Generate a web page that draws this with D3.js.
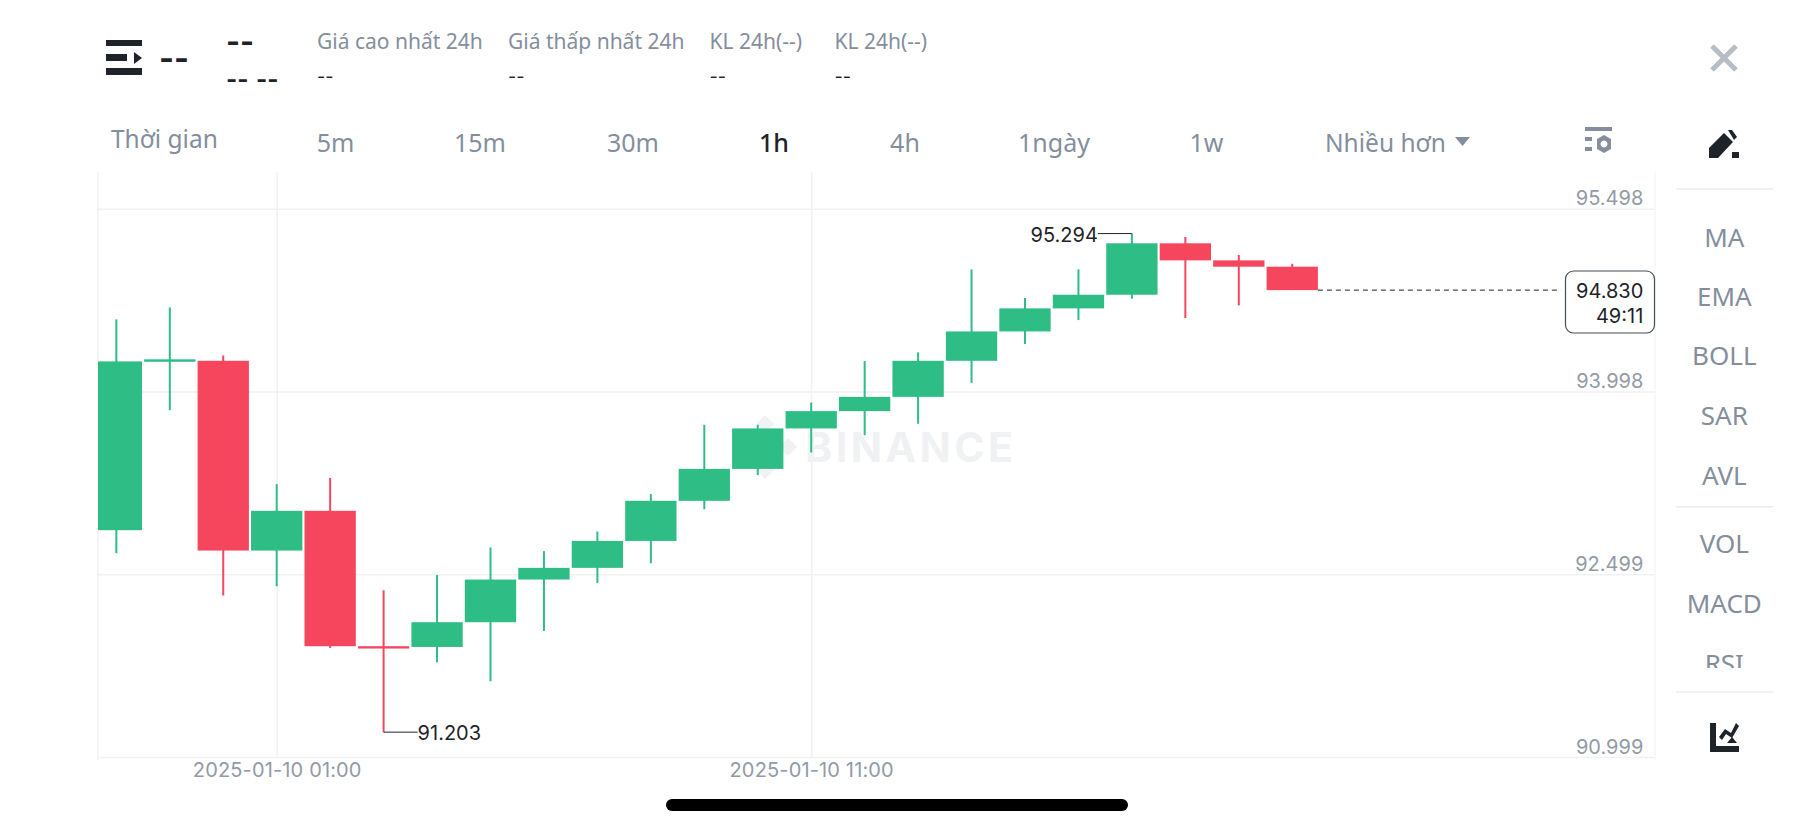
<!DOCTYPE html>
<html>
<head>
<meta charset="utf-8">
<script src="https://cdn.jsdelivr.net/npm/d3@7"></script>
<style>
	html, body { margin: 0; padding: 0; background: #fff; overflow: hidden; }
	svg { display: block; }
	text { font-family: 'Noto Sans', sans-serif; }
	.num text, text.num { font-family: 'Inter', sans-serif; }
</style>
</head>
<body>
<div id="chart"></div>
<script>
// Values
const times = ['2025-01-09 22:00', '2025-01-09 23:00', '2025-01-10 00:00', '2025-01-10 01:00', '2025-01-10 02:00', '2025-01-10 03:00', '2025-01-10 04:00', '2025-01-10 05:00', '2025-01-10 06:00', '2025-01-10 07:00', '2025-01-10 08:00', '2025-01-10 09:00', '2025-01-10 10:00', '2025-01-10 11:00', '2025-01-10 12:00', '2025-01-10 13:00', '2025-01-10 14:00', '2025-01-10 15:00', '2025-01-10 16:00', '2025-01-10 17:00', '2025-01-10 18:00', '2025-01-10 19:00', '2025-01-10 20:00'];
const opens = [92.860, 94.242, 94.250, 92.693, 93.019, 91.908, 91.902, 92.105, 92.455, 92.551, 92.772, 93.101, 93.363, 93.695, 93.837, 93.954, 94.250, 94.491, 94.680, 94.792, 95.214, 95.074, 95.022];
const highs = [94.590, 94.688, 94.294, 93.238, 93.289, 92.367, 92.493, 92.718, 92.688, 92.849, 93.156, 93.725, 93.725, 93.908, 94.248, 94.319, 95.000, 94.765, 95.000, 95.294, 95.266, 95.118, 95.046];
const lows = [92.671, 93.845, 92.324, 92.400, 91.894, 91.203, 91.776, 91.620, 92.033, 92.427, 92.589, 93.032, 93.312, 93.498, 93.640, 93.733, 94.069, 94.387, 94.584, 94.759, 94.601, 94.705, 94.830];
const closes = [94.245, 94.262, 92.693, 93.019, 91.908, 91.889, 92.105, 92.455, 92.551, 92.772, 93.101, 93.363, 93.695, 93.837, 93.954, 94.250, 94.491, 94.680, 94.792, 95.214, 95.074, 95.022, 94.830];

const priceTicks = [95.498, 93.998, 92.499, 90.999];
const timeTicks = ['2025-01-10 01:00', '2025-01-10 11:00'];
const lastPrice = 94.830;
const countdown = '49:11';
const maxPoint = { index: 19, price: 95.294 };
const minPoint = { index: 5, price: 91.203 };

const statLabels = ['Giá cao nhất 24h', 'Giá thấp nhất 24h', 'KL 24h(--)', 'KL 24h(--)'];
const periods = ['5m', '15m', '30m', '1h', '4h', '1ngày', '1w'];
const activePeriod = '1h';
const mainIndicators = ['MA', 'EMA', 'BOLL', 'SAR', 'AVL'];
const subIndicators = ['VOL', 'MACD', 'RSI'];

// Declare the chart dimensions
const width = 1793;
const height = 828;
const plotLeft = 98;
const plotRight = 1655;
const plotTop = 172;
const plotBottom = 757;

const upColor = '#2ebd85';
const downColor = '#f6465d';
const gridColor = '#f0f1f3';
const mutedColor = '#848e9c';
const axisText = '#929aa5';
const darkColor = '#1e2329';

const parseTime = d3.utcParse('%Y-%m-%d %H:%M');
const formatTime = d3.utcFormat('%Y-%m-%d %H:%M');

const candles = times.map((t, i) => ({
	time: parseTime(t),
	open: opens[i],
	high: highs[i],
	low: lows[i],
	close: closes[i]
}));

const x = d3.scaleUtc()
	.domain([parseTime(timeTicks[0]), parseTime(timeTicks[1])])
	.range([276.7, 811.2]);
const y = d3.scaleLinear()
	.domain([priceTicks[3], priceTicks[0]])
	.range([plotBottom, 208.7]);

const step = x(candles[1].time) - x(candles[0].time);
const bodyWidth = step * 0.96;

const svg = d3.select('#chart')
	.append('svg')
	.attr('width', width)
	.attr('height', height)
	.attr('viewBox', [0, 0, width, height]);

svg.append('clipPath')
	.attr('id', 'plot_clip')
	.append('rect')
	.attr('x', plotLeft)
	.attr('y', plotTop)
	.attr('width', plotRight - plotLeft)
	.attr('height', plotBottom - plotTop);

// Frame
svg.append('line')
	.attr('x1', plotLeft).attr('x2', plotLeft)
	.attr('y1', plotTop).attr('y2', 760)
	.attr('stroke', gridColor).attr('stroke-width', 1.5);
svg.append('line')
	.attr('x1', plotRight).attr('x2', plotRight)
	.attr('y1', plotTop).attr('y2', 760)
	.attr('stroke', gridColor).attr('stroke-width', 1);

// Price axis with grid lines
const yAxis = svg.append('g')
	.attr('class', 'num')
	.attr('transform', 'translate(' + plotRight + ',0)')
	.call(d3.axisLeft(y).tickValues(priceTicks).tickFormat(d3.format('.3f')).tickSize(plotRight - plotLeft));
yAxis.select('.domain').remove();
yAxis.selectAll('line').attr('stroke', gridColor).attr('stroke-width', 1.5);
yAxis.selectAll('text')
	.attr('x', -11.7)
	.attr('dy', -4)
	.style('dominant-baseline', 'auto')
	.style('font-size', '20px')
	.attr('fill', axisText);

// Time axis with grid lines
const xAxis = svg.append('g')
	.attr('class', 'num')
	.attr('transform', 'translate(0,' + plotBottom + ')')
	.call(d3.axisBottom(x).tickValues(timeTicks.map(parseTime)).tickFormat(formatTime).tickSize(plotTop - plotBottom));
xAxis.select('.domain').remove();
xAxis.selectAll('line').attr('stroke', gridColor).attr('stroke-width', 1.5);
xAxis.selectAll('text')
	.attr('y', 20)
	.attr('dy', 0)
	.style('font-size', '20px')
	.style('letter-spacing', '0.15px')
	.attr('fill', axisText);

// Watermark
const mark = svg.append('g').attr('fill', '#eff1f3');
[[765, 424, 9], [765, 470, 9], [742, 447, 9], [788, 447, 9], [765, 447, 13]].forEach((d) => {
	mark.append('path').attr('d', d3.line()([[d[0], d[1] - d[2]], [d[0] + d[2], d[1]], [d[0], d[1] + d[2]], [d[0] - d[2], d[1]]]) + 'Z');
});
mark.append('text')
	.attr('x', 805)
	.attr('y', 461.5)
	.style('font-family', 'Inter')
	.style('font-weight', 700)
	.style('font-size', '41px')
	.style('letter-spacing', '3.5px')
	.text('BINANCE');

// Candles
const candle = svg.append('g')
	.attr('clip-path', 'url(#plot_clip)')
	.selectAll('g')
	.data(candles)
	.join('g')
	.attr('fill', (d) => (d.close >= d.open ? upColor : downColor))
	.attr('stroke', (d) => (d.close >= d.open ? upColor : downColor));

candle.append('line')
	.attr('x1', (d) => x(d.time))
	.attr('x2', (d) => x(d.time))
	.attr('y1', (d) => y(d.high))
	.attr('y2', (d) => y(d.low))
	.attr('stroke-width', 2);

candle.append('rect')
	.attr('x', (d) => x(d.time) - bodyWidth / 2)
	.attr('width', bodyWidth)
	.attr('y', (d) => y(Math.max(d.open, d.close)))
	.attr('height', (d) => Math.max(2, Math.abs(y(d.open) - y(d.close))))
	.attr('stroke', 'none');

// High and low callouts
const callouts = svg.append('g').attr('class', 'num');
callouts.append('path')
	.attr('d', d3.line()([[x(candles[maxPoint.index].time), y(maxPoint.price)], [x(candles[maxPoint.index].time) - 34, y(maxPoint.price)]]))
	.attr('stroke', darkColor).attr('stroke-width', 1);
callouts.append('text')
	.attr('class', 'num')
	.attr('x', x(candles[maxPoint.index].time) - 34)
	.attr('y', y(maxPoint.price) + 8)
	.attr('text-anchor', 'end')
	.attr('fill', darkColor)
	.style('font-size', '20px')
	.text(d3.format('.3f')(maxPoint.price));
callouts.append('path')
	.attr('d', d3.line()([[x(candles[minPoint.index].time), y(minPoint.price)], [x(candles[minPoint.index].time) + 34, y(minPoint.price)]]))
	.attr('stroke', darkColor).attr('stroke-width', 1);
callouts.append('text')
	.attr('class', 'num')
	.attr('x', x(candles[minPoint.index].time) + 34)
	.attr('y', y(minPoint.price) + 8)
	.attr('fill', darkColor)
	.style('font-size', '20px')
	.text(d3.format('.3f')(minPoint.price));

// Last price line and box
const lastX = x(candles[candles.length - 1].time) + bodyWidth / 2;
svg.append('line')
	.attr('x1', lastX).attr('x2', 1561)
	.attr('y1', y(lastPrice)).attr('y2', y(lastPrice))
	.attr('stroke', '#1e2329').attr('stroke-width', 1).attr('stroke-dasharray', '5,4');
svg.append('rect')
	.attr('x', 1565.5).attr('y', 271)
	.attr('width', 89).attr('height', 62)
	.attr('rx', 8)
	.attr('fill', '#fff')
	.attr('stroke', '#474d57').attr('stroke-width', 1.2);
svg.append('text')
	.attr('class', 'num')
	.attr('x', 1643.3).attr('y', 298)
	.attr('text-anchor', 'end').attr('fill', darkColor)
	.style('font-size', '20px')
	.text(d3.format('.3f')(lastPrice));
svg.append('text')
	.attr('class', 'num')
	.attr('x', 1643.3).attr('y', 322.5)
	.attr('text-anchor', 'end').attr('fill', darkColor)
	.style('font-size', '20px')
	.text(countdown);

// Header row
const header = svg.append('g');
header.append('rect').attr('x', 106).attr('y', 40).attr('width', 36).attr('height', 6).attr('fill', darkColor);
header.append('rect').attr('x', 106).attr('y', 54).attr('width', 21).attr('height', 7).attr('fill', darkColor);
header.append('path').attr('d', 'M134,52L142,58L134,64Z').attr('fill', darkColor);
header.append('rect').attr('x', 106).attr('y', 68).attr('width', 36).attr('height', 7).attr('fill', darkColor);

[[159, 70, 32], [226, 52, 30], [226, 88, 24], [256, 88, 24]].forEach((d) => {
	header.append('text')
		.attr('class', 'num')
		.attr('x', d[0]).attr('y', d[1])
		.attr('fill', darkColor)
		.style('font-weight', 700)
		.style('font-size', d[2] + 'px')
		.text('--');
});

const statX = [317, 508, 709.5, 834.5];
header.selectAll('.stat')
	.data(statLabels)
	.join('text')
	.attr('class', 'stat')
	.attr('x', (d, i) => statX[i])
	.attr('y', 49)
	.attr('fill', mutedColor)
	.style('font-size', '21px')
	.text((d) => d);
header.selectAll('.stat_value')
	.data(statLabels)
	.join('text')
	.attr('class', 'stat_value num')
	.attr('x', (d, i) => statX[i])
	.attr('y', 83)
	.attr('fill', darkColor)
	.style('font-size', '18px')
	.text('--');

// Period row
const periodX = [335.5, 480, 633, 774, 905, 1054, 1206.5];
svg.append('text')
	.attr('x', 111).attr('y', 148)
	.attr('fill', mutedColor)
	.style('font-size', '24.5px')
	.text('Thời gian');
svg.selectAll('.period')
	.data(periods)
	.join('text')
	.attr('class', 'period')
	.attr('x', (d, i) => periodX[i])
	.attr('y', 152)
	.attr('text-anchor', 'middle')
	.attr('fill', (d) => (d === activePeriod ? darkColor : mutedColor))
	.style('font-weight', (d) => (d === activePeriod ? 500 : 400))
	.style('font-size', '25px')
	.text((d) => d);
svg.append('text')
	.attr('x', 1325).attr('y', 152)
	.attr('fill', mutedColor)
	.style('font-size', '24.5px')
	.text('Nhiều hơn');
svg.append('path').attr('d', 'M1455,137L1470,137L1462.5,146Z').attr('fill', mutedColor);

// Settings icon
const settings = svg.append('g').attr('fill', mutedColor);
settings.append('rect').attr('x', 1585).attr('y', 127).attr('width', 27).attr('height', 4);
settings.append('rect').attr('x', 1585).attr('y', 137).attr('width', 7).attr('height', 4);
settings.append('rect').attr('x', 1585).attr('y', 147).attr('width', 7).attr('height', 4);
settings.append('path')
	.attr('d', 'M1604,135L1611,139V149L1604,153L1597,149V139Z M1604,140.5a3.5,3.5 0 1,0 0.01,0Z')
	.attr('fill-rule', 'evenodd');

// Close icon
svg.append('path')
	.attr('d', 'M1712,46L1736,70M1736,46L1712,70')
	.attr('stroke', '#b7bdc6').attr('stroke-width', 5).attr('fill', 'none');

// Draw tool icon
const pen = svg.append('g').attr('fill', darkColor);
pen.append('path').attr('d', 'M1709,158V148L1724,133L1733,142L1718,158Z');
pen.append('path').attr('d', 'M1728,130L1732,130L1737,137L1734,140Z');
pen.append('rect').attr('x', 1732).attr('y', 152).attr('width', 7).attr('height', 6);

// Right panel
svg.append('g')
	.selectAll('line')
	.data([189, 506.7, 692])
	.join('line')
	.attr('x1', 1676).attr('x2', 1773)
	.attr('y1', (d) => d).attr('y2', (d) => d)
	.attr('stroke', '#eaecef').attr('stroke-width', 1.5);

svg.append('clipPath')
	.attr('id', 'panel_clip')
	.append('rect')
	.attr('x', 1660).attr('y', 190).attr('width', 133).attr('height', 478);

const panel = svg.append('g').attr('clip-path', 'url(#panel_clip)');
const mainY = [246.7, 306, 365, 425, 484.7];
const subY = [553, 613, 672.5];
panel.selectAll('.main_ind')
	.data(mainIndicators)
	.join('text')
	.attr('class', 'main_ind')
	.attr('x', 1724.3)
	.attr('y', (d, i) => mainY[i])
	.attr('text-anchor', 'middle')
	.attr('fill', mutedColor)
	.style('font-size', '26px')
	.text((d) => d);
panel.selectAll('.sub_ind')
	.data(subIndicators)
	.join('text')
	.attr('class', 'sub_ind')
	.attr('x', 1724.3)
	.attr('y', (d, i) => subY[i])
	.attr('text-anchor', 'middle')
	.attr('fill', mutedColor)
	.style('font-size', '26px')
	.text((d) => d);

// Chart icon
const chartIcon = svg.append('g').attr('fill', darkColor);
chartIcon.append('path').attr('d', 'M1710,723H1716V746H1739V752H1710Z');
chartIcon.append('path').attr('d', 'M1719,737L1725,729L1731,733L1736,723L1739,726L1732,738L1726,734L1722,740Z');
chartIcon.append('path').attr('d', 'M1727,743L1732,737L1737,743Z');

// Home bar
svg.append('rect')
	.attr('x', 666).attr('y', 799)
	.attr('width', 462).attr('height', 12)
	.attr('rx', 6)
	.attr('fill', '#000');
</script>
</body>
</html>
